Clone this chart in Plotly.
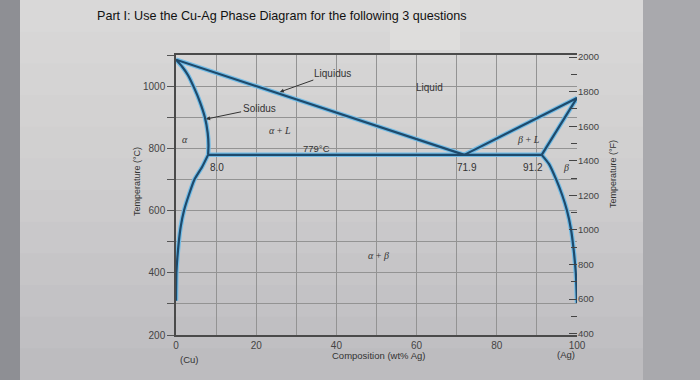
import plotly.graph_objects as go

# ---------------- data ----------------
liquidus_left_x = [0, 71.9]
liquidus_left_t = [1085, 779]
liquidus_right_x = [71.9, 100]
liquidus_right_t = [779, 962]
solidus_a_x = [0, 1.5, 3.0, 4.5, 6.0, 7.2, 7.9, 8.1, 8.0]
solidus_a_t = [1085, 1063, 1035, 995, 948, 900, 850, 810, 779]
solvus_a_x = [8.0, 6.5, 4.6, 3.2, 2.0, 1.2, 0.7, 0.35, 0.1, 0.0]
solvus_a_t = [779, 740, 700, 650, 600, 550, 500, 450, 400, 310]
solidus_b_x = [91.2, 100]
solidus_b_t = [779, 962]
solvus_b_x = [91.2, 93.0, 94.8, 96.3, 97.5, 98.5, 99.2, 99.7, 100]
solvus_b_t = [779, 750, 700, 650, 600, 540, 470, 400, 303]
eutectic_x = [8.0, 91.2]
eutectic_t = [779, 779]

x_ticks = [0, 10, 20, 30, 40, 50, 60, 70, 80, 90, 100]
x_labels = ["0", "", "20", "", "40", "", "60", "", "80", "", "100"]
c_ticks = [200, 300, 400, 500, 600, 700, 800, 900, 1000, 1100]
c_labels = ["200", "", "400", "", "600", "", "800", "", "1000", ""]
f_ticks = [400, 600, 800, 1000, 1200, 1400, 1600, 1800, 2000]
f_labels = ["400", "600", "800", "1000", "1200", "1400", "1600", "1800", "2000"]

T_MIN, T_MAX = 200, 1100

DARK = "#1e4a6c"
LIGHT = "#72bce6"

fig = go.Figure()
curves = [
    (liquidus_left_x, liquidus_left_t),
    (liquidus_right_x, liquidus_right_t),
    (solidus_a_x, solidus_a_t),
    (solvus_a_x, solvus_a_t),
    (solidus_b_x, solidus_b_t),
    (solvus_b_x, solvus_b_t),
    (eutectic_x, eutectic_t),
]
for xs, ts in curves:
    fig.add_trace(go.Scatter(x=xs, y=ts, mode="lines",
                             line=dict(color=LIGHT, width=4.5, shape="spline", smoothing=0.5),
                             hoverinfo="skip", showlegend=False))
for xs, ts in curves:
    fig.add_trace(go.Scatter(x=xs, y=ts, mode="lines",
                             line=dict(color=DARK, width=2.2, shape="spline", smoothing=0.5),
                             showlegend=False))
# invisible trace for the °F axis
fig.add_trace(go.Scatter(x=[0, 100], y=[T_MIN * 9 / 5 + 32, T_MAX * 9 / 5 + 32], yaxis="y2", mode="markers",
                         marker=dict(opacity=0), hoverinfo="skip", showlegend=False))

# ---------------- layout ----------------
L, R, T, B = 176, 577, 55, 335
W, H = 700, 380


def px(xp, yp):
    return (xp - L) / (R - L), (B - yp) / (B - T)


shapes = []
def band(x0, y0, x1, y1, color):
    a, b = px(x0, y1)
    c, d = px(x1, y0)
    shapes.append(dict(type="rect", xref="paper", yref="paper", x0=a, y0=b, x1=c, y1=d,
                       fillcolor=color, line=dict(width=0), layer="below"))

grad = ["#d9d8d8", "#d7d6d6", "#d5d4d4", "#d3d2d2", "#d1d0d0", "#cfcecf", "#cccbcc",
        "#c9c8ca", "#c6c5c7", "#c3c2c5", "#c0bfc2", "#bdbcbf"]
step = H / len(grad)
for i, col in enumerate(grad):
    band(0, i * step, W, (i + 1) * step + 1, col)
band(390, 0, 460, 50, "#dedddc")
band(0, 0, 20, H, "#8e8f94")
band(643, 0, W, H, "#a9a9ad")

ann = []
def txt(x, y, s, size=10, font="Liberation Sans", color="#333", **kw):
    ann.append(dict(x=x, y=y, xref="x", yref="y", text=s, showarrow=False,
                    font=dict(family=font, size=size, color=color), **kw))

def ptxt(xp, yp, s, size=10, angle=0, font="Liberation Sans", color="#333"):
    a, b = px(xp, yp)
    ann.append(dict(x=a, y=b, xref="paper", yref="paper", text=s, showarrow=False, textangle=angle,
                    font=dict(family=font, size=size, color=color)))

SER = "Liberation Serif"
txt(63.3, 994, "Liquid")
txt(25.9, 856, "<i>α</i> + <i>L</i>", font=SER)
txt(2.2, 830, "<i>α</i>", font=SER)
txt(35.1, 801, "779°C", size=9.5)
txt(10.3, 737, "8.0")
txt(72.6, 740, "71.9")
txt(89.0, 740, "91.2")
txt(88.0, 827, "<i>β</i> + <i>L</i>", font=SER)
txt(97.3, 737, "<i>β</i>", font=SER)
txt(50.4, 457, "<i>α</i> + <i>β</i>", font=SER)

ann.append(dict(x=25.9, y=981, xref="x", yref="y", text="Liquidus", showarrow=True, arrowhead=2,
                arrowsize=0.8, arrowwidth=1, arrowcolor="#333", ax=53, ay=-19, xanchor="center",
                font=dict(family="Liberation Sans", size=10, color="#333")))
ann.append(dict(x=7.5, y=894, xref="x", yref="y", text="Solidus", showarrow=True, arrowhead=2,
                arrowsize=0.8, arrowwidth=1, arrowcolor="#333", ax=53, ay=-11,
                font=dict(family="Liberation Sans", size=10, color="#333")))

ptxt(130, 182, "Temperature (°C)", size=9, angle=-90)
ptxt(620, 174, "Temperature (°F)", size=9, angle=-90)
ptxt(378, 363, "Composition (wt% Ag)", size=9.5)
ptxt(178, 367, "(Cu)", size=9.5)
ptxt(577, 362, "(Ag)", size=9.5)

fig.update_layout(
    width=W, height=H,
    margin=dict(l=L, r=W - R, t=T, b=H - B),
    paper_bgcolor="#cdcccd",
    plot_bgcolor="rgba(0,0,0,0)",
    title=dict(text="Part I: Use the Cu-Ag Phase Diagram for the following 3 questions",
               x=97 / W, xanchor="left", y=1 - 16 / H, yanchor="middle",
               font=dict(family="Liberation Sans", size=12.6, color="#111")),
    xaxis=dict(range=[0, 100], tickvals=x_ticks, ticktext=x_labels, showgrid=True,
               gridcolor="#939393", gridwidth=1, showline=True, linecolor="#4a4a4a", linewidth=1.5,
               mirror=True, ticks="", zeroline=False,
               tickfont=dict(family="Liberation Sans", size=10, color="#444")),
    yaxis=dict(range=[T_MIN, T_MAX], tickvals=c_ticks, ticktext=c_labels, showgrid=True,
               gridcolor="#939393", gridwidth=1, showline=True, linecolor="#4a4a4a", linewidth=1.5,
               ticks="outside", ticklen=7, tickcolor="#555", zeroline=False,
               tickfont=dict(family="Liberation Sans", size=10, color="#444")),
    yaxis2=dict(range=[T_MIN * 9 / 5 + 32, T_MAX * 9 / 5 + 32], overlaying="y", side="right",
                tickvals=f_ticks, ticktext=f_labels, showgrid=False, zeroline=False,
                ticks="inside", ticklen=8, tickcolor="#444",
                minor=dict(ticks="inside", ticklen=6, dtick=100, tickcolor="#444", showgrid=False),
                tickfont=dict(family="Liberation Sans", size=9.5, color="#444")),
    shapes=shapes,
    annotations=ann,
)

fig.write_html("out.html", config={"displayModeBar": False},
               post_script="document.body.style.margin='0';")
